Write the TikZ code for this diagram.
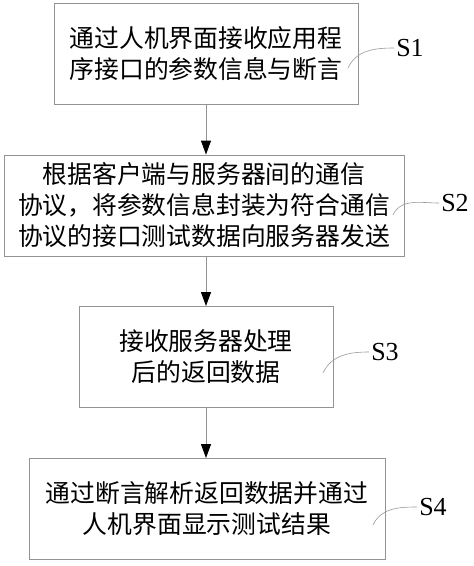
\documentclass[tikz,border=0pt]{standalone}
\usepackage{fontspec}
\setmainfont{Liberation Serif}
\newfontfamily\cjk{Noto Sans CJK SC}
\usetikzlibrary{arrows.meta}
\begin{document}
\begin{tikzpicture}[x=1pt, y=-1pt, font=\cjk\fontsize{24.8}{31}\selectfont,
  stepbox/.style={draw=gray!85, line width=0.9pt, inner sep=0pt, align=center, minimum height=101pt},
  flow/.style={draw=gray!85, line width=0.9pt, -{Triangle[length=14pt,width=10pt,black]}},
  tag/.style={draw=gray!80, line width=0.6pt},
  steplabel/.style={font=\rmfamily\fontsize{26}{26}\selectfont, inner sep=2pt}]
\useasboundingbox (0,0) rectangle (474,566);
% the four steps
\node[stepbox, minimum width=304pt] (b1) at (206,53.5) {通过人机界面接收应用程\\序接口的参数信息与断言};
\node[stepbox, minimum width=400pt] (b2) at (204,205.5) {根据客户端与服务器间的通信\\协议，将参数信息封装为符合通信\\协议的接口测试数据向服务器发送};
\node[stepbox, minimum width=254pt] (b3) at (206,357) {接收服务器处理\\后的返回数据};
\node[stepbox, minimum width=356pt] (b4) at (207,509) {通过断言解析返回数据并通过\\人机界面显示测试结果};
% arrows between steps
\foreach \a/\b in {b1/b2, b2/b3, b3/b4}
  \draw[flow] (b1.south |- \a.south) -- (b1.south |- \b.north);
% step labels with their leader curves
\node[steplabel] (s1) at (410,48) {S1};
\node[steplabel] (s2) at (455,203) {S2};
\node[steplabel] (s3) at (385,352) {S3};
\node[steplabel] (s4) at (433,507) {S4};
\coordinate (t1) at (348,68);
\coordinate (t2) at (393,215);
\coordinate (t3) at (323,373);
\coordinate (t4) at (373,525);
\foreach \i in {1,2,3,4}
  \draw[tag] (t\i) to[out=65, in=180] (s\i.west);
\end{tikzpicture}
\end{document}
